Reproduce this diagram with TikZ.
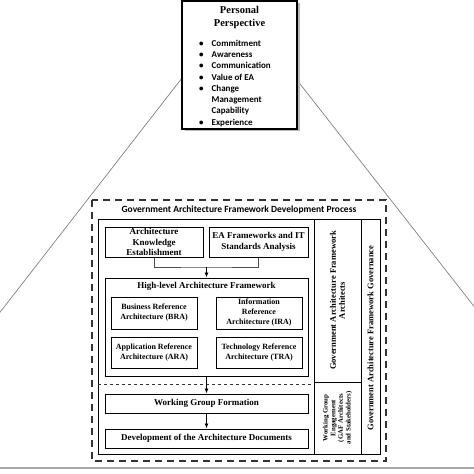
\documentclass[tikz,border=0pt]{standalone}
\usepackage{fontspec}
\setmainfont{Liberation Serif}
\newfontfamily\calfont{Carlito}
\usetikzlibrary{positioning, arrows.meta, calc}

\begin{document}
\begin{tikzpicture}[x=1pt, y=-1pt,
    box/.style={draw, line width=1pt, align=center, inner sep=1pt,
        font=\bfseries\fontsize{9}{10.5}\selectfont},
    refbox/.style={box, minimum width=86pt, font=\bfseries\fontsize{8}{10}\selectfont},
    link/.style={draw=black!70, line width=0.7pt},
    flow/.style={black, line width=0.8pt, -{Latex[length=5pt, width=4pt]}},
    side/.style={rotate=90, align=center, inner sep=0pt}]
    \useasboundingbox (0,0) rectangle (474,474);

    % Pyramid sides
    \coordinate (ltop) at (182,78);
    \coordinate (lfoot) at (-6,320);
    \coordinate (rtop) at (297,80);
    \coordinate (rfoot) at (480,314);
    \draw[gray, line width=0.7pt] (ltop) -- (lfoot);
    \draw[gray, line width=0.7pt] (rtop) -- (rfoot);

    % Ground line
    \draw[gray!70, line width=1.3pt] (0,468) -- (474,468);

    % Personal perspective
    \fill[gray!55] (184.5,3) rectangle (299.5,131);
    \node[draw, fill=white, line width=1.1pt, minimum width=115pt, minimum height=128pt] (persp) at (239.5,65) {};
    \node[align=center, font=\bfseries\fontsize{10.5}{13}\selectfont] (ptitle) at (239.5,17.5) {Personal\\Perspective};
    \node[anchor=north west, inner sep=0pt, font=\calfont\bfseries\fontsize{9}{11.3}\selectfont] (plist) at (199,38)
        {\begin{tabular}{@{}l@{\hspace{8pt}}l@{}}
        \textbullet & Commitment\\
        \textbullet & Awareness\\
        \textbullet & Communication\\
        \textbullet & Value of EA\\
        \textbullet & Change\\
                    & Management\\
                    & Capability\\
        \textbullet & Experience
        \end{tabular}};

    % Development process
    \draw[line width=1.3pt, dash pattern=on 7pt off 5pt, black!80] (92,200) rectangle (386,461);
    \node[font=\calfont\bfseries\fontsize{9.5}{11}\selectfont] (gtitle) at (239,209.5) {Government Architecture Framework Development Process};
    \draw[line width=1pt] (98,219) rectangle (380,454);
    \draw[line width=1pt] (314,219) -- (314,454);
    \draw[line width=1pt] (361,219) -- (361,454);
    \draw[line width=1pt] (314,382) -- (361,382);
    \draw[line width=0.8pt, dashed, black!80] (98,384) -- (314,384);

    \node[box, minimum width=98pt, minimum height=30pt] (ake) at (154,242) {Architecture\\Knowledge\\Establishment};
    \node[box, minimum width=99pt, minimum height=30pt] (eaf) at (258.5,242) {EA Frameworks and IT\\Standards Analysis};
    \node[draw, line width=1pt, minimum width=203pt, minimum height=98pt] (hlaf) at (206.5,327) {};
    \node[font=\bfseries\fontsize{9}{10.5}\selectfont] (htitle) at (206.5,286.5) {High-level Architecture Framework};
    \node[refbox, minimum height=32pt] (bra) at (154,313) {Business Reference\\Architecture (BRA)};
    \node[refbox, minimum height=32pt] (ira) at (259,313) {Information\\Reference\\Architecture (IRA)};
    \node[refbox, minimum height=31pt] (ara) at (154,352.5) {Application Reference\\Architecture (ARA)};
    \node[refbox, minimum height=31pt] (tra) at (259,352.5) {Technology Reference\\Architecture (TRA)};
    \node[box, minimum width=203pt, minimum height=19pt] (wgf) at (206.5,403.5) {Working Group Formation};
    \node[box, minimum width=203pt, minimum height=19pt] (dad) at (206.5,438.5) {Development of the Architecture Documents};

    % Connectors
    \coordinate (join) at (206.5,267);
    \draw[link] (ake.south) |- (join) -| (eaf.south);
    \draw[flow] (join) -- (hlaf.north);
    \draw[flow] (hlaf.south) -- (wgf.north);
    \draw[flow] (wgf.south) -- (dad.north);

    % Side columns
    \node[side, font=\bfseries\fontsize{8.5}{9}\selectfont] (gafa) at (337.5,300.5) {Government Architecture Framework\\Architects};
    \node[side, font=\bfseries\fontsize{6.8}{7.6}\selectfont] (wge) at (337.5,418) {Working Group\\Engagement\\(GAF Architects\\and Stakeholders)};
    \node[side, font=\bfseries\fontsize{8.5}{10}\selectfont] (gafg) at (370.5,338) {Government Architecture Framework Governance};
\end{tikzpicture}
\end{document}
